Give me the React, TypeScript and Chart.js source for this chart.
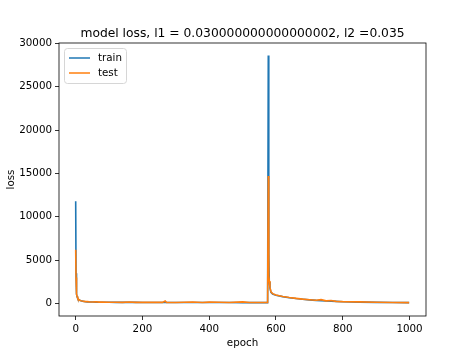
import React, { useEffect, useRef } from "react";
import { Chart, registerables } from "chart.js";

Chart.register(...registerables);

const epochs = [0, 1, 2, 3, 4, 6, 8, 12, 16, 20, 25, 30, 35, 40, 50, 60, 70, 80, 100, 120, 140, 160, 180, 200, 230, 260, 268, 272, 300, 350, 380, 400, 430, 460, 500, 520, 550, 575, 577, 578, 579, 580, 582, 585, 590, 600, 620, 640, 660, 680, 700, 720, 735, 750, 765, 780, 800, 850, 900, 950, 999];
const trainLoss = [11800, 3500, 1800, 1100, 800, 600, 480, 380, 320, 280, 250, 220, 200, 190, 180, 170, 160, 155, 150, 145, 140, 140, 135, 130, 130, 130, 130, 130, 125, 125, 120, 120, 120, 120, 115, 115, 115, 115, 28600, 3000, 5800, 2500, 1800, 1300, 1100, 950, 800, 680, 580, 500, 430, 370, 340, 300, 280, 250, 220, 170, 140, 120, 110];
const testLoss = [6200, 3000, 1700, 1100, 850, 620, 500, 390, 330, 290, 260, 230, 240, 200, 190, 210, 170, 185, 160, 150, 145, 190, 140, 135, 140, 135, 300, 140, 130, 190, 125, 170, 160, 125, 200, 120, 120, 120, 14700, 4500, 3200, 2600, 1900, 1350, 1150, 980, 820, 700, 600, 510, 440, 380, 450, 310, 360, 260, 230, 200, 150, 130, 115];
const xTicks = [0, 200, 400, 600, 800, 1000];
const yTicks = [0, 5000, 10000, 15000, 20000, 25000, 30000];
const seriesNames = ["train", "test"];
const titleText = "model loss, l1 = 0.030000000000000002, l2 =0.035";

const FONT = "'DejaVu Sans', sans-serif";

const overlay = {
  id: "overlay",
  afterDraw(chart: any) {
    const { ctx, chartArea } = chart;
    const { left, right, top, bottom } = chartArea;
    ctx.save();
    ctx.strokeStyle = "#000";
    ctx.lineWidth = 0.8;
    ctx.strokeRect(left, top, right - left, bottom - top);
    ctx.fillStyle = "#000";
    ctx.font = `12.3px ${FONT}`;
    ctx.textAlign = "center";
    ctx.textBaseline = "alphabetic";
    ctx.fillText(titleText, (left + right) / 2, top - 6);
    ctx.font = `10.3px ${FONT}`;
    ctx.fillText("epoch", (left + right) / 2, 346);
    ctx.save();
    ctx.translate(14, (top + bottom) / 2);
    ctx.rotate(-Math.PI / 2);
    ctx.fillText("loss", 0, 0);
    ctx.restore();
    const lx = left + 5, ly = top + 5, lw = 62, lh = 35;
    ctx.fillStyle = "rgba(255,255,255,0.8)";
    ctx.strokeStyle = "#d6d6d6";
    ctx.lineWidth = 1;
    ctx.beginPath();
    (ctx as any).roundRect(lx + 0.5, ly + 0.5, lw, lh, 3);
    ctx.fill();
    ctx.stroke();
    const colors = ["#1f77b4", "#ff7f0e"];
    seriesNames.forEach((name, i) => {
      const yy = ly + 10 + i * 15;
      ctx.strokeStyle = colors[i];
      ctx.lineWidth = 1.5;
      ctx.beginPath();
      ctx.moveTo(lx + 5, yy);
      ctx.lineTo(lx + 26, yy);
      ctx.stroke();
      ctx.fillStyle = "#000";
      ctx.font = `10.3px ${FONT}`;
      ctx.textAlign = "left";
      ctx.textBaseline = "middle";
      ctx.fillText(name, lx + 34, yy);
    });
    ctx.restore();
  },
};

export default function App() {
  const ref = useRef<HTMLCanvasElement>(null);
  useEffect(() => {
    document.body.style.margin = "0";
    const chart = new Chart(ref.current as HTMLCanvasElement, {
      type: "line",
      data: {
        datasets: [
          {
            label: seriesNames[1],
            data: epochs.map((e, i) => ({ x: e, y: testLoss[i] })),
            borderColor: "#ff7f0e",
            borderWidth: 1.6,
            pointRadius: 0,
            tension: 0,
          },
          {
            label: seriesNames[0],
            data: epochs.map((e, i) => ({ x: e, y: trainLoss[i] })),
            borderColor: "#1f77b4",
            borderWidth: 1.6,
            pointRadius: 0,
            tension: 0,
          },
        ],
      },
      options: {
        animation: false,
        responsive: false,
        layout: { padding: { left: 0, right: 48, top: 43, bottom: 0 } },
        plugins: { legend: { display: false }, tooltip: { enabled: false }, title: { display: false } },
        scales: {
          x: {
            type: "linear",
            min: -50,
            max: 1049.5,
            afterBuildTicks: (s: any) => { s.ticks = xTicks.map((v) => ({ value: v })); },
            afterFit: (s: any) => { s.height = 39; },
            grid: { drawOnChartArea: false, drawTicks: true, tickLength: 4, color: "#000", tickWidth: 0.8 },
            border: { display: false },
            ticks: { color: "#000", font: { family: FONT, size: 10.3 }, padding: 3, maxRotation: 0, autoSkip: false, callback: (v: any) => String(v) },
          },
          y: {
            type: "linear",
            min: -1430,
            max: 30030,
            afterBuildTicks: (s: any) => { s.ticks = yTicks.map((v) => ({ value: v })); },
            afterFit: (s: any) => { s.width = 59; },
            grid: { drawOnChartArea: false, drawTicks: true, tickLength: 4, color: "#000", tickWidth: 0.8 },
            border: { display: false },
            ticks: { color: "#000", font: { family: FONT, size: 10.3 }, padding: 3, autoSkip: false, callback: (v: any) => String(v) },
          },
        },
      },
      plugins: [overlay],
    });
    return () => chart.destroy();
  }, []);
  return <canvas ref={ref} width={474} height={355} style={{ display: "block" }} />;
}
